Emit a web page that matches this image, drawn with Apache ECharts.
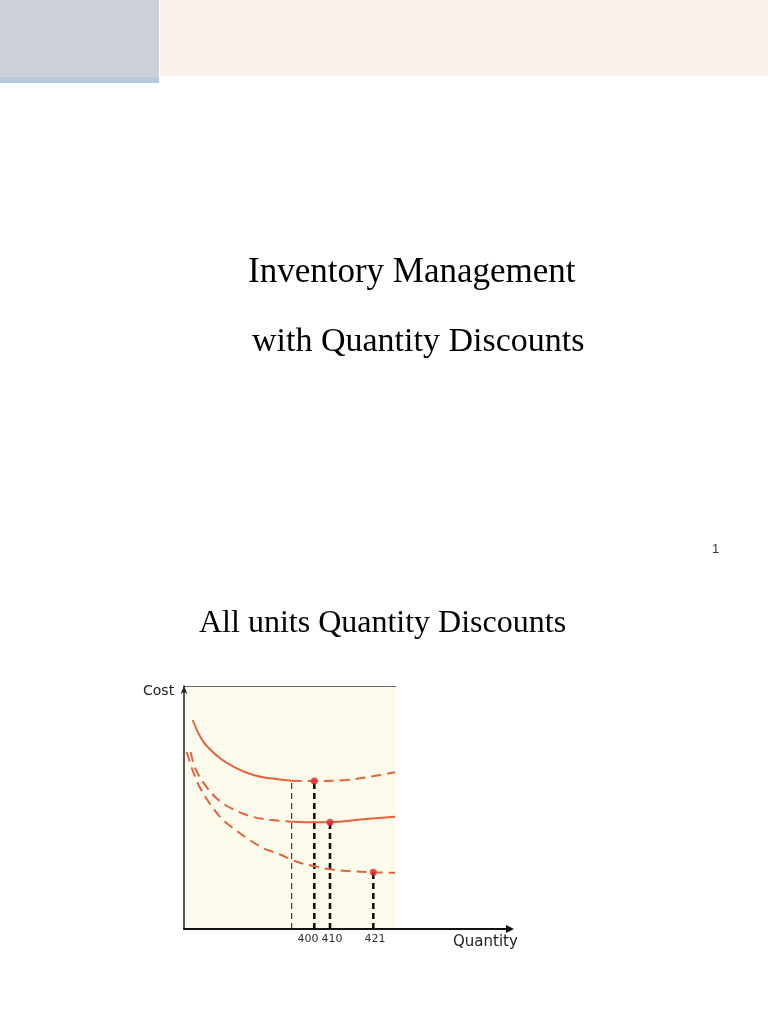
<!DOCTYPE html>
<html>
<head>
<meta charset="utf-8">
<script src="https://cdn.jsdelivr.net/npm/echarts@6/dist/echarts.min.js"></script>
<style>
html,body{margin:0;padding:0;background:#fff;}
#c{width:768px;height:1024px;}
</style>
</head>
<body>
<div id="c"></div>
<script>
// Schematic curves (x, cost) in chart units
var topSolid = [[8.7,209],[19.3,187.3],[36,170.7],[52.7,160.7],[69.3,154],[86,150.7],[107.7,148.3]];
var topDashed = [[107.7,148.3],[130.3,148],[162.7,149],[196,154],[211,156.7]];
var midDashed = [[6.7,177],[11.3,160.3],[21.3,143.7],[34.7,128.7],[48,120.3],[62.7,114],[79,110],[107.7,107.3]];
var midSolid = [[107.7,107.3],[129.3,106.7],[146,106.7],[179.3,109.7],[211,112.3]];
var lowDashed = [[2.7,177],[8,160.3],[14.7,143.7],[24.7,127],[34.7,113.7],[44.7,104.3],[62.7,91],[79,81],[96,74.5],[112.7,67.3],[129.3,63],[146,59.7],[162.7,58],[189.3,56.7],[211,56.3]];
var optimumPoints = [[130.3,148],[146,106.7],[189.3,56.7]];
var breakX = 107.7;
var tickValues = [124,148,191];
var tickLabels = ['400','410','421'];
var xMax = 326, yMax = 243, panelX = 212;

var curveColor = '#e2643c';
function lineSeries(data, dashed){
  return {type:'line', data:data, smooth:0.35, symbol:'none', silent:true,
    lineStyle:{color:curveColor, width:2, type: dashed ? [10,6] : 'solid'}, z:3};
}
var series = [];
series.push({type:'line', data:[], silent:true,
  markArea:{silent:true, itemStyle:{color:'#fdfbec'}, data:[[{coord:[0,0]},{coord:[panelX,yMax]}]]},
  markLine:{silent:true, symbol:'none', label:{show:false}, lineStyle:{color:'#666', width:1, type:'solid'},
    data:[[{coord:[0,yMax]},{coord:[panelX,yMax]}]]}, z:-1});
series.push(lineSeries(topSolid,false));
series.push(lineSeries(topDashed,true));
series.push(lineSeries(midDashed,true));
series.push(lineSeries(midSolid,false));
series.push(lineSeries(lowDashed,true));
// thin dashed break line
series.push({type:'line', data:[[breakX,0],[breakX,topSolid[topSolid.length-1][1]]], symbol:'none', silent:true,
  lineStyle:{color:'#111', width:1, type:[6,4]}, z:2});
// thick drop lines
optimumPoints.forEach(function(p){
  series.push({type:'line', data:[[p[0],0],[p[0],p[1]]], symbol:'none', silent:true,
    lineStyle:{color:'#111', width:2.6, type:[6,4]}, z:2});
});
series.push({type:'scatter', data:optimumPoints, symbolSize:7, itemStyle:{color:'#e3262a'}, silent:true, z:5});

var chart = echarts.init(document.getElementById('c'), null, {renderer:'canvas'});
chart.setOption({
  backgroundColor:'#ffffff',
  animation:false,
  grid:{left:184, top:686, width:xMax, height:yMax},
  xAxis:{type:'value', min:0, max:xMax, splitLine:{show:false}, z:10,
    axisLine:{show:true, lineStyle:{color:'#111', width:2}, symbol:['none','path://M0,10 L5,0 L10,10'], symbolSize:[9,8]},
    axisTick:{show:false},
    axisLabel:{customValues:tickValues, fontSize:11, color:'#333', margin:5, fontFamily:'DejaVu Sans',
      formatter:function(v){var i=tickValues.indexOf(v);return i>=0?tickLabels[i]:'';}}},
  yAxis:{type:'value', min:0, max:yMax, splitLine:{show:false}, z:10,
    axisLine:{show:true, lineStyle:{color:'#222', width:1.5}, symbol:['none','arrow'], symbolSize:[5,8]},
    axisTick:{show:false}, axisLabel:{show:false}},
  series:series,
  graphic:[
    {type:'rect', shape:{x:0,y:0,width:159,height:77}, style:{fill:'#cdd0d9'}, silent:true},
    {type:'rect', shape:{x:0,y:77,width:159,height:6}, style:{fill:'#b8c9dd'}, silent:true},
    {type:'rect', shape:{x:160,y:0,width:608,height:76}, style:{fill:'#f9f0ea'}, silent:true},
    {type:'text', left:248, top:255, style:{text:'Inventory Management', font:'35px "Liberation Serif"', fill:'#000'}},
    {type:'text', left:252, top:325, style:{text:'with Quantity Discounts', font:'34px "Liberation Serif"', fill:'#000'}},
    {type:'text', left:199, top:608, style:{text:'All units Quantity Discounts', font:'32px "Liberation Serif"', fill:'#000'}},
    {type:'text', left:712, top:543, style:{text:'1', font:'13px "Liberation Sans"', fill:'#333'}},
    {type:'text', left:143, top:684, style:{text:'Cost', font:'14px "DejaVu Sans"', fill:'#222'}},
    {type:'text', left:453, top:935, style:{text:'Quantity', font:'15px "DejaVu Sans"', fill:'#222'}}
  ]
});
</script>
</body>
</html>
